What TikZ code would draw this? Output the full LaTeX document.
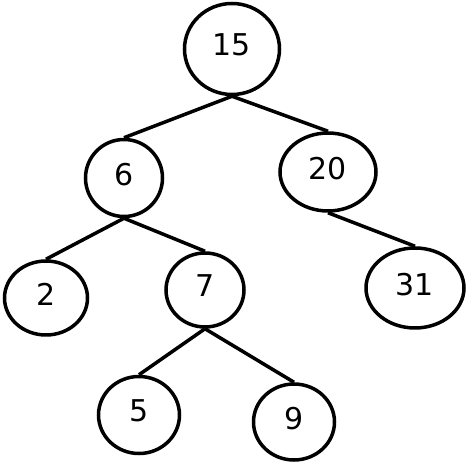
\documentclass[tikz,border=0pt]{standalone}
\usepackage{fontspec}
\setmainfont{DejaVu Sans}
\usetikzlibrary{shapes.geometric}

\tikzset{
  treenode/.style={draw=black, fill=white, ellipse, line width=3.5pt, inner sep=0pt,
    text depth=8pt, font=\fontsize{30}{36}\selectfont},
  treeedge/.style={draw=black, line width=3.5pt}
}

\begin{document}
\begin{tikzpicture}[x=1pt,y=1pt]
            \fill[white] (0,0) rectangle (474,463);
            \useasboundingbox (0,0) rectangle (474,463);
            % Level 1
            \node[treenode, minimum width=95pt, minimum height=91pt] (n15) at (232,414) {15};
            % Level 2
            \node[treenode, minimum width=77pt, minimum height=77pt] (n6) at (124,285) {6};
            \node[treenode, minimum width=96pt, minimum height=78pt] (n20) at (328,291) {20};
            % Level 3
            \node[treenode, minimum width=83pt, minimum height=74pt] (n2) at (46,165) {2};
            \node[treenode, minimum width=78pt, minimum height=74pt] (n7) at (205,173) {7};
            \node[treenode, minimum width=98pt, minimum height=80pt] (n31) at (415,175) {31};
            % Level 4
            \node[treenode, minimum width=81pt, minimum height=77pt] (n5) at (139,48) {5};
            \node[treenode, minimum width=81pt, minimum height=76pt] (n9) at (294,41) {9};
            % Edges
            \draw[treeedge] (n15.south) -- (n6.north);
            \draw[treeedge] (n15.south) -- (n20.north);
            \draw[treeedge] (n6.south) -- (n2.north);
            \draw[treeedge] (n6.south) -- (n7.north);
            \draw[treeedge] (n20.south) -- (n31.north);
            \draw[treeedge] (n7.south) -- (n5.north);
            \draw[treeedge] (n7.south) -- (n9.north);
\end{tikzpicture}
\end{document}
